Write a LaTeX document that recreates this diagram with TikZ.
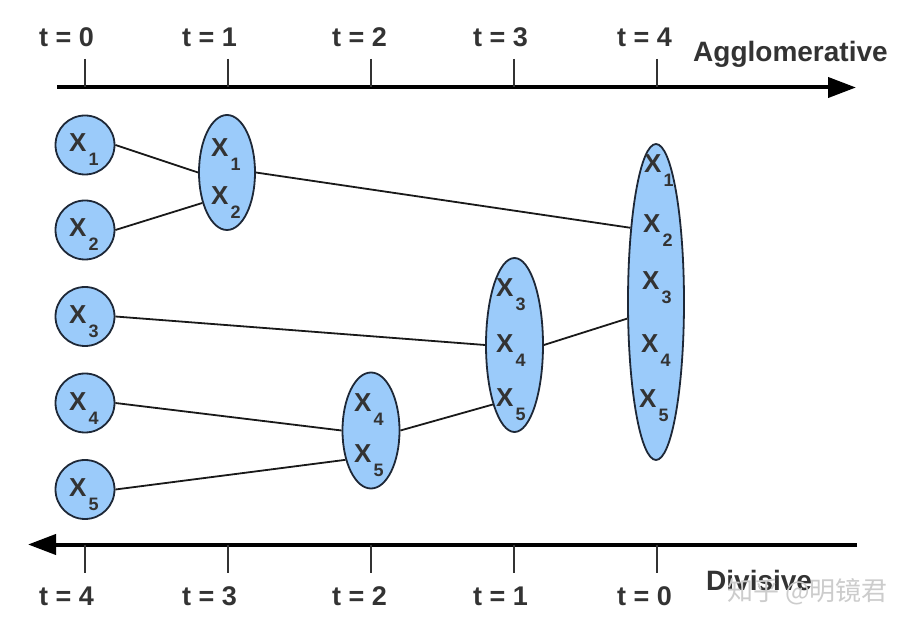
\documentclass[tikz,border=0pt]{standalone}
\usepackage{fontspec}
\setmainfont{Liberation Sans}
\newfontfamily\cjkfont{Noto Sans CJK SC}
\usetikzlibrary{shapes.geometric,arrows.meta}
\definecolor{nodefill}{RGB}{155,203,250}
\definecolor{nodeline}{RGB}{30,40,55}
\definecolor{txt}{RGB}{51,51,51}
\newcommand{\xlab}[1]{X\kern2pt\raisebox{-14pt}{\fontsize{18}{18}\selectfont\bfseries #1}}
\begin{document}
\begin{tikzpicture}[x=1pt,y=-1pt,
  leaf/.style={circle,draw=nodeline,fill=nodefill,line width=1.8pt,minimum size=59pt,inner sep=0pt},
  clus/.style={ellipse,draw=nodeline,fill=nodefill,line width=1.8pt,inner sep=0pt},
  lab/.style={anchor=base west,inner sep=0pt,text=txt,font=\fontsize{26}{26}\selectfont\bfseries},
  tlab/.style={anchor=base west,inner sep=0pt,text=txt,font=\fontsize{27}{27}\selectfont\bfseries},
  link/.style={line width=1.8pt,draw=black!90},
  axisline/.style={line width=4pt,-{Triangle[length=28pt,width=20pt]}},
  tickline/.style={line width=2pt,draw=txt}]
\useasboundingbox (0,0) rectangle (922,628);
\fill[white] (0,0) rectangle (922,628);

% top axis
\coordinate (ta) at (57,87.5);
\coordinate (tb) at (856,87.5);
\draw[axisline] (ta) -- (tb);
\foreach \x in {85,228,371,514,657} \draw[tickline] (\x,59) -- (\x,87.5);
\node[tlab] (t0) at (39,47) {t = 0};
\node[tlab] (t1) at (182,47) {t = 1};
\node[tlab] (t2) at (332,47) {t = 2};
\node[tlab] (t3) at (473,47) {t = 3};
\node[tlab] (t4) at (617,47) {t = 4};
\node[tlab,font=\fontsize{28}{28}\selectfont\bfseries] (agg) at (693,62) {Agglomerative};

% bottom axis
\coordinate (ba) at (857,544.5);
\coordinate (bb) at (28,544.5);
\draw[axisline] (ba) -- (bb);
\foreach \x in {85,228,371,514,657} \draw[tickline] (\x,544.5) -- (\x,573);
\node[tlab] (b4) at (39,605) {t = 4};
\node[tlab] (b3) at (182,605) {t = 3};
\node[tlab] (b2) at (332,605) {t = 2};
\node[tlab] (b1) at (473,605) {t = 1};
\node[tlab] (b0) at (617,605) {t = 0};
\node[tlab,font=\fontsize{28}{28}\selectfont\bfseries] (div) at (706,590) {Divisive};

% leaves
\node[leaf] (c1) at (85,145) {};
\node[leaf] (c2) at (85,230) {};
\node[leaf] (c3) at (85,316.5) {};
\node[leaf] (c4) at (85,403) {};
\node[leaf] (c5) at (85,489.5) {};

% clusters
\node[clus,minimum width=56pt,minimum height=115pt] (e1) at (227,172.5) {};
\node[clus,minimum width=57pt,minimum height=116pt] (e2) at (371,430.5) {};
\node[clus,minimum width=57pt,minimum height=174pt] (e3) at (514.5,345) {};
\node[clus,minimum width=56pt,minimum height=316pt] (e4) at (656,302) {};

% connectors
\draw[link] (c1.east) -- (e1.west);
\draw[link] (c2.east) -- (e1.231);
\draw[link] (e1.east) -- (e4.109);
\draw[link] (c3.east) -- (e3.west);
\draw[link] (e3.east) -- (e4.210);
\draw[link] (c4.east) -- (e2.west);
\draw[link] (c5.east) -- (e2.229);
\draw[link] (e2.east) -- (e3.250);

% labels
\node[lab] (l1) at (69,152) {\xlab{1}};
\node[lab] (l2) at (69,237) {\xlab{2}};
\node[lab] (l3) at (69,323.5) {\xlab{3}};
\node[lab] (l4) at (69,410.5) {\xlab{4}};
\node[lab] (l5) at (69,496.5) {\xlab{5}};

\node[lab] (a1) at (211,157) {\xlab{1}};
\node[lab] (a2) at (211,205) {\xlab{2}};

\node[lab] (b4l) at (354,412) {\xlab{4}};
\node[lab] (b5l) at (354,463) {\xlab{5}};

\node[lab] (d3) at (496,297) {\xlab{3}};
\node[lab] (d4) at (496,353) {\xlab{4}};
\node[lab] (d5) at (496,407) {\xlab{5}};

\node[lab] (f1) at (644,173) {\xlab{1}};
\node[lab] (f2) at (643,233) {\xlab{2}};
\node[lab] (f3) at (642,290) {\xlab{3}};
\node[lab] (f4) at (641,353) {\xlab{4}};
\node[lab] (f5) at (639,408) {\xlab{5}};

% watermark
\node[anchor=base west,inner sep=0pt,text=gray!40,font=\cjkfont\fontsize{26}{26}\selectfont] (wm) at (727,600) {知乎 @明镜君};
\end{tikzpicture}
\end{document}
